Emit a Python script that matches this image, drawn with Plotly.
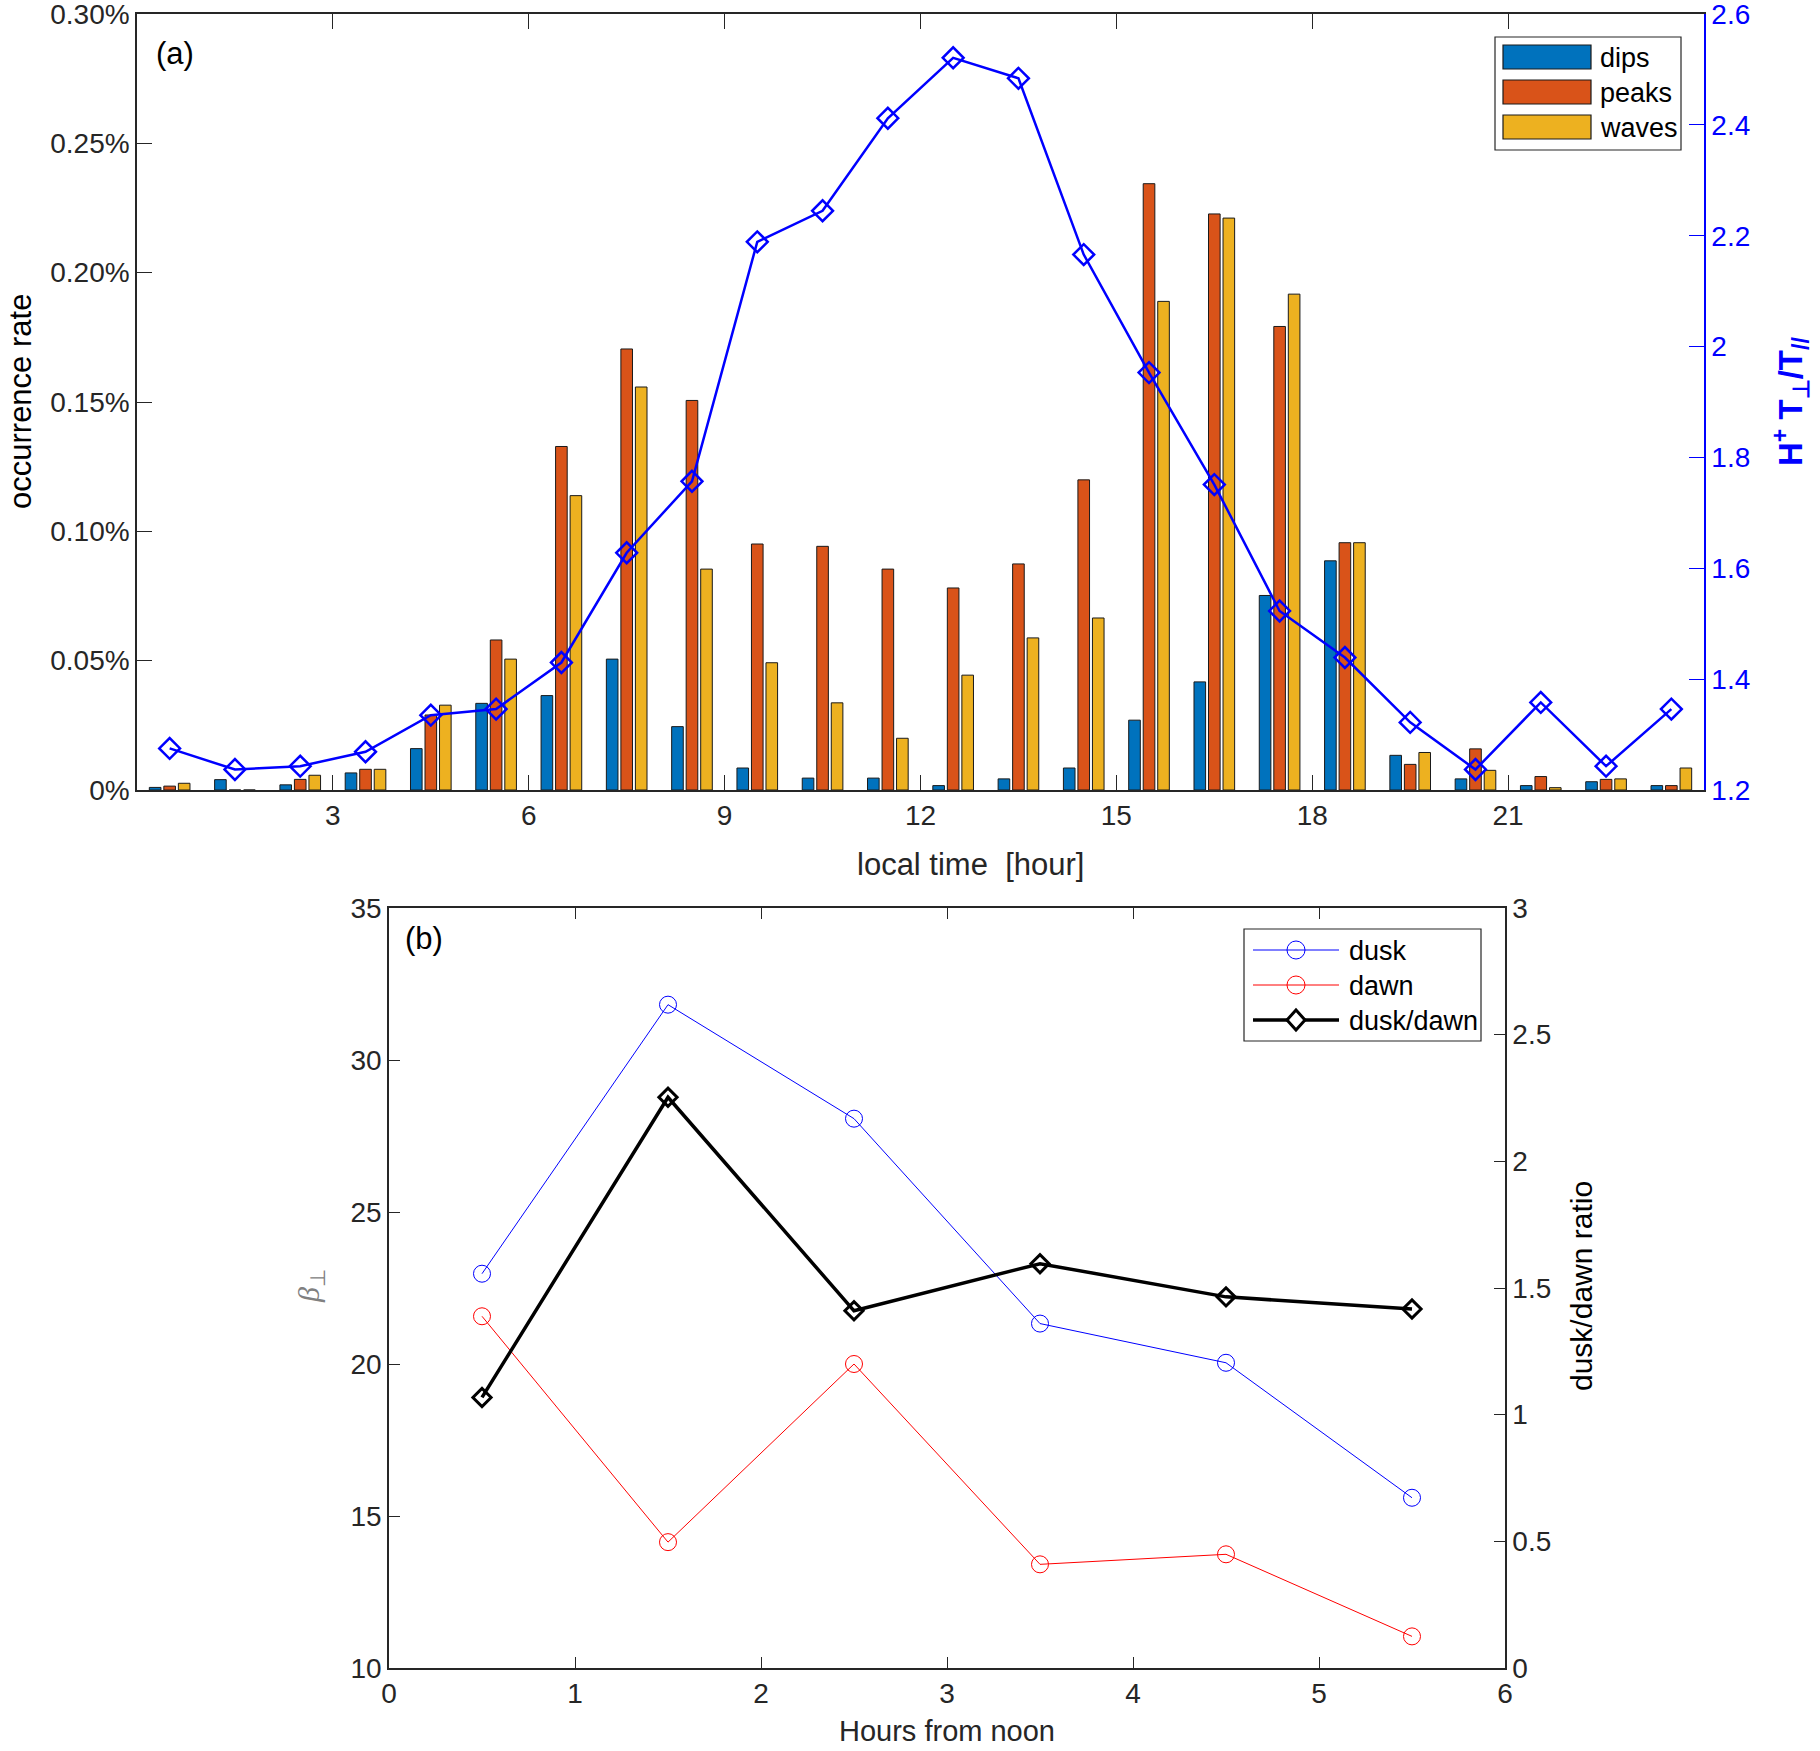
import plotly.graph_objects as go

# ---------------- data ----------------
hours = [0.5, 1.5, 2.5, 3.5, 4.5, 5.5, 6.5, 7.5, 8.5, 9.5, 10.5, 11.5,
         12.5, 13.5, 14.5, 15.5, 16.5, 17.5, 18.5, 19.5, 20.5, 21.5, 22.5, 23.5]
# occurrence rate in percent
dips = [0.0010, 0.0040, 0.0020, 0.0066, 0.0160, 0.0335, 0.0365, 0.0506, 0.0245, 0.0085, 0.0046, 0.0046,
        0.0017, 0.0043, 0.0085, 0.0270, 0.0418, 0.0752, 0.0886, 0.0134, 0.0043, 0.0017, 0.0032, 0.0017]
peaks = [0.0015, 0.0000, 0.0041, 0.0080, 0.0290, 0.0580, 0.1328, 0.1705, 0.1506, 0.0951, 0.0942, 0.0854,
         0.0781, 0.0874, 0.1199, 0.2344, 0.2227, 0.1792, 0.0956, 0.0099, 0.0159, 0.0052, 0.0041, 0.0017]
waves = [0.0026, 0.0000, 0.0057, 0.0080, 0.0328, 0.0506, 0.1138, 0.1558, 0.0854, 0.0492, 0.0337, 0.0200,
         0.0444, 0.0588, 0.0665, 0.1889, 0.2211, 0.1917, 0.0956, 0.0145, 0.0076, 0.0009, 0.0043, 0.0085]
temp_ratio = [1.275, 1.237, 1.243, 1.269, 1.335, 1.346, 1.430, 1.628, 1.757, 2.189, 2.245, 2.412,
              2.521, 2.484, 2.166, 1.953, 1.751, 1.523, 1.439, 1.322, 1.237, 1.358, 1.243, 1.346]

a_xticks = [3, 6, 9, 12, 15, 18, 21]
a_yticks = [0, 0.05, 0.10, 0.15, 0.20, 0.25, 0.30]
a_yticktext = ["0%", "0.05%", "0.10%", "0.15%", "0.20%", "0.25%", "0.30%"]
bar_names = ["dips", "peaks", "waves"]

hours_from_noon = [0.5, 1.5, 2.5, 3.5, 4.5, 5.5]
dusk = [22.97, 31.82, 28.07, 21.33, 20.04, 15.60]
dawn = [21.57, 14.14, 20.00, 13.41, 13.74, 11.04]
dusk_dawn = [1.068, 2.253, 1.410, 1.596, 1.465, 1.417]

# ---------------- styling ----------------
W, H = 1820, 1751
FONT = "Liberation Sans, Arial, sans-serif"
AX = "#262626"
BLUE = "#0000FF"
C_DIPS, C_PEAKS, C_WAVES = "#0072BD", "#D95319", "#EDB120"
bar_colors = [C_DIPS, C_PEAKS, C_WAVES]


def px(x):
    return x / W


def py(y):
    return 1 - y / H


fig = go.Figure()

for name, vals, col in zip(bar_names, [dips, peaks, waves], bar_colors):
    fig.add_trace(go.Bar(x=hours, y=vals, name=name, marker=dict(color=col, line=dict(color="#1a1a1a", width=1)),
                         xaxis="x", yaxis="y", showlegend=False))

fig.add_trace(go.Scatter(x=hours, y=temp_ratio, mode="lines+markers", xaxis="x", yaxis="y2",
                         line=dict(color=BLUE, width=2.5),
                         marker=dict(symbol="diamond-open", size=16, color=BLUE, line=dict(color=BLUE, width=2.5)),
                         showlegend=False))

fig.add_trace(go.Scatter(x=hours_from_noon, y=dusk, mode="lines+markers", xaxis="x3", yaxis="y3",
                         line=dict(color=BLUE, width=1),
                         marker=dict(symbol="circle-open", size=17, color=BLUE, line=dict(color=BLUE, width=1)),
                         showlegend=False))
fig.add_trace(go.Scatter(x=hours_from_noon, y=dawn, mode="lines+markers", xaxis="x3", yaxis="y3",
                         line=dict(color="#FF0000", width=1),
                         marker=dict(symbol="circle-open", size=17, color="#FF0000", line=dict(color="#FF0000", width=1)),
                         showlegend=False))
fig.add_trace(go.Scatter(x=hours_from_noon, y=dusk_dawn, mode="lines+markers", xaxis="x3", yaxis="y4",
                         line=dict(color="#000000", width=3.5),
                         marker=dict(symbol="diamond-open", size=14, color="#000000", line=dict(color="#000000", width=3)),
                         showlegend=False))

tickfont = dict(family=FONT, size=28, color=AX)
common = dict(showgrid=False, zeroline=False, ticks="inside", showline=True, linewidth=1.5,
              automargin=False, ticklabeloverflow="allow")

fig.update_layout(
    width=W, height=H, margin=dict(l=0, r=0, t=0, b=0, pad=0, autoexpand=False),
    paper_bgcolor="white", plot_bgcolor="white",
    barmode="group", bargap=0.333, bargroupgap=0.2,
    font=dict(family=FONT, color=AX),
    xaxis=dict(domain=[px(137), px(1704)], range=[0, 24], tickvals=a_xticks, ticklen=15,
               linecolor=AX, tickcolor=AX, mirror="ticks", anchor="y", tickfont=tickfont, **common),
    yaxis=dict(domain=[py(790), py(14)], range=[0, 0.30], tickvals=a_yticks, ticktext=a_yticktext, ticklen=15,
               linecolor=AX, tickcolor=AX, anchor="x", tickfont=tickfont, **common),
    yaxis2=dict(overlaying="y", side="right", anchor="x", range=[1.2, 2.6], tick0=1.2, dtick=0.2, ticklen=15,
                linecolor=BLUE, tickcolor=BLUE, tickfont=dict(family=FONT, size=28, color=BLUE), **common),
    xaxis3=dict(domain=[px(389), px(1505)], range=[0, 6], dtick=1, tick0=0, ticklen=11,
                linecolor=AX, tickcolor=AX, mirror="ticks", anchor="y3", tickfont=tickfont, **common),
    yaxis3=dict(domain=[py(1668), py(908)], range=[10, 35], dtick=5, tick0=10, ticklen=11,
                linecolor=AX, tickcolor=AX, anchor="x3", tickfont=tickfont, **common),
    yaxis4=dict(overlaying="y3", side="right", anchor="x3", range=[0, 3], dtick=0.5, tick0=0, ticklen=11,
                linecolor=AX, tickcolor=AX, tickfont=tickfont, **common),
)

# ---------------- titles / labels ----------------
ann = []
ann.append(dict(text="occurrence rate", x=px(20), y=py(402), textangle=-90, font=dict(size=31, color="#000")))
ann.append(dict(text="local time\u00a0 [hour]", x=px(970), y=py(865), font=dict(size=31, color=AX)))
ann.append(dict(text="<b>H<sup>+</sup> T<sub>\u22a5</sub>/T<sub>//</sub></b>", x=px(1790), y=py(402), textangle=-90,
                font=dict(size=33, color=BLUE)))
ann.append(dict(text="(a)", x=px(175), y=py(54), font=dict(size=31, color="#000")))
ann.append(dict(text="(b)", x=px(424), y=py(938), font=dict(size=31, color="#000")))
ann.append(dict(text="Hours from noon", x=px(947), y=py(1731), font=dict(size=29, color=AX)))
ann.append(dict(text="dusk/dawn ratio", x=px(1581), y=py(1286), textangle=-90, font=dict(size=30, color="#000")))
ann.append(dict(text="<i>\u03b2</i><sub>\u22a5</sub>", x=px(311), y=py(1286), textangle=-90,
                font=dict(size=30, color="#808080", family="Liberation Serif, serif")))

shapes = []
# legend (a)
shapes.append(dict(type="rect", xref="paper", yref="paper", x0=px(1495), x1=px(1681), y0=py(150), y1=py(37),
                   line=dict(color=AX, width=1.2), fillcolor="white", layer="above"))
leg_a_y = [57, 92, 127]
for name, col, yc in zip(bar_names, bar_colors, leg_a_y):
    shapes.append(dict(type="rect", xref="paper", yref="paper", x0=px(1503), x1=px(1591), y0=py(yc + 12), y1=py(yc - 12),
                       line=dict(color="#1a1a1a", width=1.2), fillcolor=col, layer="above"))
    ann.append(dict(text=name, x=px(1598), y=py(yc + 1), xanchor="left", font=dict(size=27, color="#000")))

# legend (b)
shapes.append(dict(type="rect", xref="paper", yref="paper", x0=px(1244), x1=px(1481), y0=py(1041), y1=py(929),
                   line=dict(color=AX, width=1.2), fillcolor="white", layer="above"))
leg_b = [("dusk", BLUE, 1, "circle", 950), ("dawn", "#FF0000", 1, "circle", 985), ("dusk/dawn", "#000000", 3.5, "diamond", 1020)]
for name, col, lw, sym, yc in leg_b:
    shapes.append(dict(type="line", xref="paper", yref="paper", x0=px(1253), x1=px(1339), y0=py(yc), y1=py(yc),
                       line=dict(color=col, width=lw), layer="above"))
    if sym == "circle":
        shapes.append(dict(type="circle", xref="paper", yref="paper", xsizemode="pixel", ysizemode="pixel",
                           xanchor=px(1296), yanchor=py(yc), x0=-9, x1=9, y0=-9, y1=9,
                           line=dict(color=col, width=1), fillcolor="rgba(0,0,0,0)", layer="above"))
    else:
        shapes.append(dict(type="path", xref="paper", yref="paper", xsizemode="pixel", ysizemode="pixel",
                           xanchor=px(1296), yanchor=py(yc), path="M0,-10 L9,0 L0,10 L-9,0 Z",
                           line=dict(color=col, width=3), fillcolor="white", layer="above"))
    ann.append(dict(text=name, x=px(1347), y=py(yc + 1), xanchor="left", font=dict(size=27, color="#000")))

for a in ann:
    a.setdefault("xref", "paper")
    a.setdefault("yref", "paper")
    a.setdefault("showarrow", False)
    a.setdefault("xanchor", "center")
    a.setdefault("yanchor", "middle")
fig.update_layout(annotations=ann, shapes=shapes)

fig.write_html("out.html")
